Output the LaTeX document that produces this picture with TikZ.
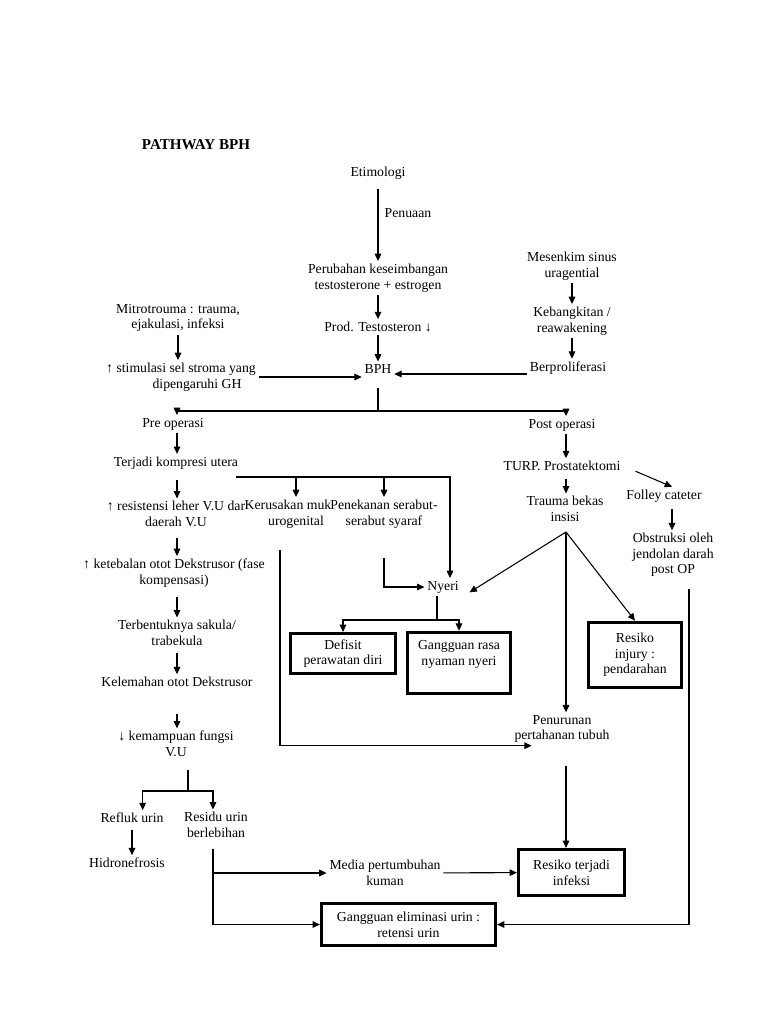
\documentclass[tikz,border=0pt]{standalone}
\usepackage{fontspec}
\setmainfont{Liberation Serif}
\usetikzlibrary{arrows.meta}

\begin{document}
\begin{tikzpicture}[x=0.75pt,y=-0.75pt,
	txt/.style={align=center,inner sep=2pt,font=\fontsize{10.3pt}{11.7pt}\selectfont},
	box/.style={txt,draw,line width=2.4pt},
	lin/.style={line width=0.8pt},
	arr/.style={lin,-{Triangle[length=5.5pt,width=5pt]}}]
				\useasboundingbox (0,0) rectangle (768,1024);
				
				\node[txt,anchor=west,font=\fontsize{11.3pt}{13pt}\selectfont\bfseries] (title) at (139,145) {PATHWAY BPH};
				
				\node[txt] (etim) at (378,173) {Etimologi};
				\node[txt] (penuaan) at (408,213) {Penuaan};
				\node[txt] (perub) at (378,278) {Perubahan keseimbangan\\testosterone + estrogen};
				\node[txt] (prod) at (378,327) {Prod. Testosteron ↓};
				\node[txt] (bph) at (378,369) {BPH};
				\node[txt] (mitro) at (178,318) {Mitrotrouma : trauma,\\ejakulasi, infeksi};
				\node[txt] (stim) at (181,377) {↑ stimulasi sel stroma yang\\\hspace*{24pt}dipengaruhi GH};
				\node[txt] (mesen) at (572,266) {Mesenkim sinus\\uragential};
				\node[txt] (keb) at (572,321) {Kebangkitan /\\reawakening};
				\node[txt] (berp) at (568,368) {Berproliferasi};
				
				\node[txt] (pre) at (173,424) {Pre operasi};
				\node[txt] (kompresi) at (176,463) {Terjadi kompresi utera};
				\node[txt] (resist) at (176,514) {↑ resistensi leher V.U dar\\daerah V.U};
				\node[txt] (keteb) at (174,573) {↑ ketebalan otot Dekstrusor (fase\\kompensasi)};
				\node[txt] (terb) at (177,633) {Terbentuknya sakula/\\trabekula};
				\node[txt] (kelem) at (177,682) {Kelemahan otot Dekstrusor};
				\node[txt] (kemamp) at (176,744) {↓ kemampuan fungsi\\V.U};
				\node[txt] (refluk) at (132,818) {Refluk urin};
				\node[txt] (residu) at (216,825) {Residu urin\\berlebihan};
				\node[txt] (hidro) at (127,863) {Hidronefrosis};
				
				\node[txt] (kerus) at (296,514) {Kerusakan muk\hspace*{12pt}\\urogenital};
				\node[txt] (penek) at (384,514) {Penekanan serabut-\\serabut syaraf};
				\node[txt] (nyeri) at (443,587) {Nyeri};
				\node[box,minimum width=78.75pt,minimum height=30pt] (defisit) at (343,653.5) {Defisit\\perawatan diri};
				\node[box,minimum width=77pt,minimum height=46pt] (gangg) at (459,663) {Gangguan rasa\\nyaman nyeri\\\strut};
				
				\node[txt] (post) at (562,425) {Post operasi};
				\node[txt] (turp) at (562,466) {TURP. Prostatektomi};
				\node[txt] (trauma) at (565,509) {Trauma bekas\\insisi};
				\node[txt] (folley) at (664,496) {Folley cateter};
				\node[txt] (obstr) at (673,555) {Obstruksi oleh\\jendolan darah\\post OP};
				\node[txt] (penur) at (562,729) {Penurunan\\pertahanan tubuh};
				\node[box,minimum width=70pt,minimum height=49pt] (rinj) at (635,655) {Resiko\\injury :\\pendarahan};
				\node[txt] (media) at (385,873) {Media pertumbuhan\\kuman};
				\node[box,minimum width=79.5pt,minimum height=34.5pt] (rinf) at (571.5,872.5) {Resiko terjadi\\infeksi};
				\node[box,minimum width=130.5pt,minimum height=31.5pt] (elim) at (408.5,924.5) {Gangguan eliminasi urin :\\retensi urin};
				
				\draw[arr,shorten <=5pt] (etim) -- (perub);
				\draw[arr] (perub) -- (prod);
				\draw[arr] (prod) -- (bph);
				\draw[arr] (mitro) -- (mitro |- stim.north);
				\draw[arr] (mesen) -- (keb);
				\draw[arr] (keb) -- (keb |- berp.north);
				\draw[arr] (stim.east) -- (stim.east -| bph.west);
				\draw[arr] ([yshift=-4.5pt]berp.west) -- ([yshift=-4.5pt]berp.west -| bph.east);
				
				\coordinate (split) at (378,411);
				\draw[lin,shorten <=9pt] (bph) -- (split);
				\draw[arr] (split) -| ([xshift=3pt]pre.north);
				\draw[arr] (split) -| ([xshift=3pt]post.north);
				
				\coordinate (lcol) at (177,424);
				\draw[arr] (pre.south -| lcol) -- (kompresi.north -| lcol);
				\draw[arr,shorten <=6pt] (kompresi.south -| lcol) -- (resist.north -| lcol);
				\draw[arr,shorten <=6pt] (resist.south -| lcol) -- (keteb.north -| lcol);
				\draw[arr,shorten <=5pt] (keteb.south -| lcol) -- (terb.north -| lcol);
				\draw[arr,shorten <=3pt] (terb.south -| lcol) -- (kelem.north -| lcol);
				\draw[arr,shorten <=18pt] (kelem.south -| lcol) -- (kemamp.north -| lcol);
				
				\coordinate (vu) at (188,791);
				\draw[lin,shorten <=8pt] (kemamp.south -| vu) -- (vu);
				\draw[arr] (vu) -| ([xshift=8pt]refluk.north);
				\draw[arr] (vu) -| ([xshift=-2.25pt]residu.north);
				\draw[arr,shorten <=3pt] (refluk) -- (refluk |- hidro.north);
				\draw[arr,shorten <=6pt] ([xshift=-2.25pt]residu.south) |- (media);
				\draw[arr,shorten <=6pt] ([xshift=-2.25pt]residu.south) |- (elim);
				
				\coordinate (kmp) at (236,477);
				\draw[arr] (kmp) -| ([xshift=5.25pt]nyeri.north);
				\draw[arr] (kmp -| kerus) -- (kerus);
				\draw[arr] (kmp -| penek) -- (penek);
				\draw[arr,shorten <=20pt] (penek.south) |- (nyeri.west);
				\draw[arr,shorten <=14pt] ([xshift=-12pt]kerus.south) |- ([xshift=15pt]penur.south west);
				
				\coordinate (nbr) at (437,620);
				\draw[lin] ([xshift=-4.5pt]nyeri.south) -- (nbr);
				\draw[arr] (nbr) -| (defisit);
				\draw[arr] (nbr) -| (gangg);
				
				\coordinate (tr) at (566,532);
				\draw[arr] (post.south -| tr) -- (turp.north -| tr);
				\draw[arr,shorten <=4pt] (turp.south -| tr) -- (trauma.north -| tr);
				\draw[arr,shorten <=10pt] (turp.east) -- ([xshift=6pt]folley.north);
				\draw[arr,shorten <=3pt] ([xshift=6pt]folley.south) -- ([xshift=6pt]folley.south |- obstr.north);
				\draw[arr] (tr) -- ([xshift=6pt,yshift=-4pt]nyeri.east);
				\draw[arr] (tr) -- (rinj.north);
				\draw[arr] (tr) -- (penur.north -| tr);
				\draw[arr,shorten <=15pt] (penur.south -| tr) -- (rinf.north -| tr);
				\draw[arr] (media) -- (rinf);
				\draw[arr,shorten <=7pt] ([xshift=12pt]obstr.south) |- (elim.east);
			\end{tikzpicture}
\end{document}
